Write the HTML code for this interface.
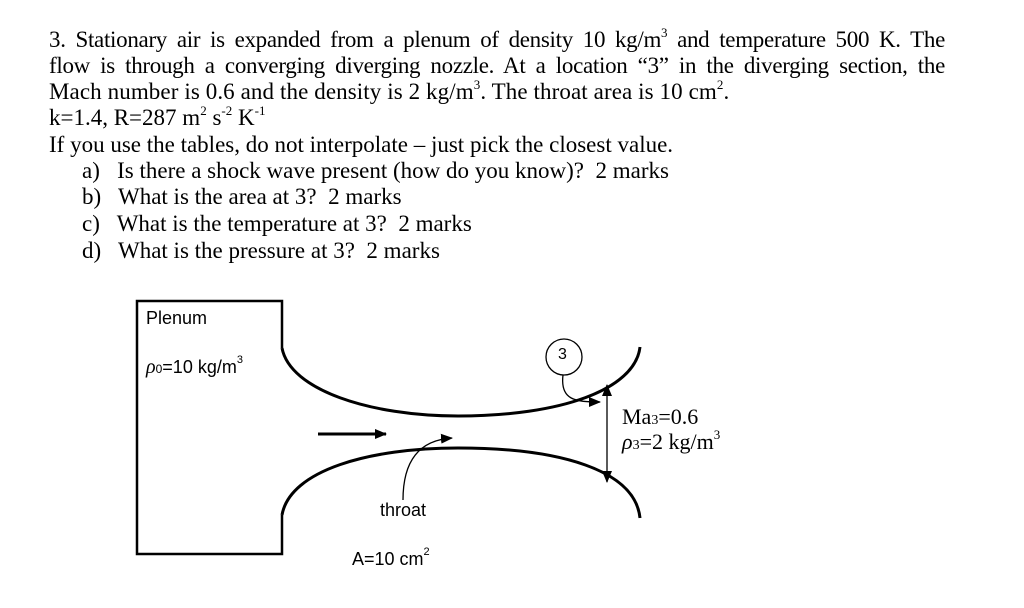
<!DOCTYPE html>
<html><head><meta charset="utf-8"><style>
body{margin:0;width:1024px;height:608px;background:#fff;position:relative;overflow:hidden;font-family:"Liberation Serif",serif;color:#000}
.l{position:absolute;left:49px;font-size:23px;line-height:24px;white-space:nowrap}
.j{width:896px;text-align:justify;text-align-last:justify;white-space:normal}
sup{font-size:13px;line-height:0;vertical-align:10px}
.s{font-family:"Liberation Sans",sans-serif;position:absolute;font-size:18px;white-space:nowrap}
</style></head><body>
<div class="l j" style="top:28px;letter-spacing:-0.3px">3. Stationary air is expanded from a plenum of density 10 kg/m<sup>3</sup> and temperature 500 K. The</div>
<div class="l j" style="top:54px;letter-spacing:-0.3px">flow is through a converging diverging nozzle. At a location “3” in the diverging section, the</div>
<div class="l" style="top:80px;letter-spacing:0.1px">Mach number is 0.6 and the density is 2 kg/m<sup>3</sup>. The throat area is 10 cm<sup>2</sup>.</div>
<div class="l" style="top:106px">k=1.4, R=287 m<sup>2</sup> s<sup>-2</sup> K<sup>-1</sup></div>
<div class="l" style="top:133px">If you use the tables, do not interpolate – just pick the closest value.</div>
<div class="l" style="top:159px;left:82px">a)&nbsp;&nbsp; Is there a shock wave present (how do you know)?&nbsp; 2 marks</div>
<div class="l" style="top:185px;left:82px">b)&nbsp;&nbsp; What is the area at 3?&nbsp; 2 marks</div>
<div class="l" style="top:212px;left:82px">c)&nbsp;&nbsp; What is the temperature at 3?&nbsp; 2 marks</div>
<div class="l" style="top:239px;left:82px">d)&nbsp;&nbsp; What is the pressure at 3?&nbsp; 2 marks</div>
<svg width="1024" height="608" style="position:absolute;left:0;top:0" fill="none" stroke="#000">
<defs><marker id="a" markerWidth="12" markerHeight="10" refX="11" refY="5" orient="auto-start-reverse" markerUnits="userSpaceOnUse"><path d="M0,0L12,5L0,10z" fill="#000" stroke="none"/></marker></defs>
<path d="M282,348 V301 H137 V554 H282 V515" stroke-width="2.5"/>
<path d="M282,348 C290,390 370,416 458,416 C560,416 635,390 640,347" stroke-width="3"/>
<path d="M282,515 C290,470 370,448 458,448 C560,448 635,470 640,518" stroke-width="3"/>
<line x1="318" y1="434" x2="386" y2="434" stroke-width="3" marker-end="url(#a)"/>
<circle cx="564" cy="357" r="18" stroke-width="1.3"/>
<path d="M563,375 C560,400 575,402 600,402" stroke-width="1.3" marker-end="url(#a)"/>
<line x1="607" y1="385" x2="607" y2="482" stroke-width="1.3" marker-start="url(#a)" marker-end="url(#a)"/>
<path d="M403,500 C403,460 420,440 452,438" stroke-width="1.3" marker-end="url(#a)"/>
</svg>
<div class="s" style="left:146px;top:308px">Plenum</div>
<div class="s" style="left:146px;top:356px"><i style="font-family:'Liberation Serif',serif;font-size:20px">ρ</i><span style="font-size:12px">0</span>=10 kg/m<sup style="font-size:11px">3</sup></div>
<div class="s" style="left:558px;top:346px;font-size:16px">3</div>
<div class="s" style="left:380px;top:500px">throat</div>
<div class="s" style="left:352px;top:549px">A=10 cm<sup style="font-size:11px">2</sup></div>
<div class="l" style="left:622px;top:405px;font-size:22px">Ma<span style="font-size:14px">3</span>=0.6</div>
<div class="l" style="left:622px;top:430px;font-size:22px"><i>ρ</i><span style="font-size:14px">3</span>=2 kg/m<sup>3</sup></div>
</body></html>
